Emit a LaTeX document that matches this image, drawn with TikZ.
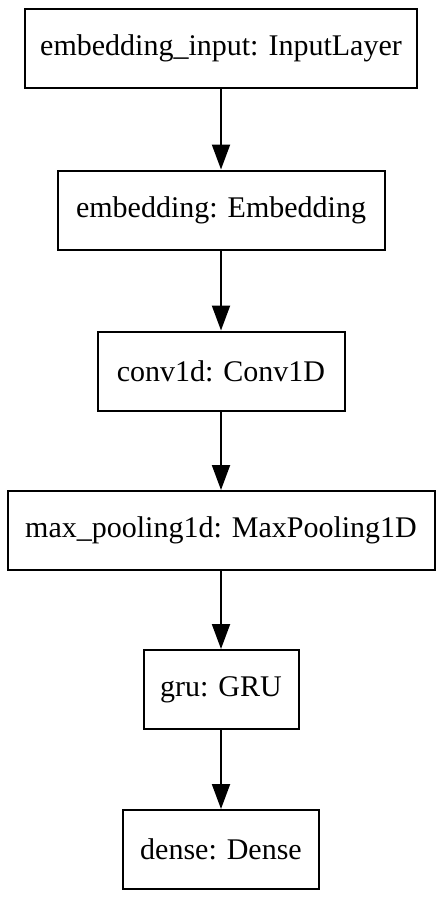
\documentclass[tikz,border=0pt]{standalone}
\usepackage{fontspec}
\setmainfont{Liberation Serif}
\usetikzlibrary{arrows.meta}
\begin{document}
\begin{tikzpicture}[x=1pt,y=-1pt,
  layer/.style={draw=black,line width=2pt,rectangle,inner sep=0pt,minimum height=79pt,font=\fontsize{30}{36}\selectfont},
  conn/.style={line width=2pt,-{Triangle[length=25pt,width=18pt]}}]
\useasboundingbox (0,0) rectangle (442,898);
\fill[white] (0,0) rectangle (442,898);
\node[layer,minimum width=392pt] (n1) at (221,48.5) {embedding\_input: InputLayer};
\node[layer,minimum width=327pt] (n2) at (221,210) {embedding: Embedding};
\node[layer,minimum width=247pt] (n3) at (221,371) {conv1d: Conv1D};
\node[layer,minimum width=427pt] (n4) at (221,530.5) {max\_pooling1d: MaxPooling1D};
\node[layer,minimum width=155pt] (n5) at (221,689.5) {gru: GRU};
\node[layer,minimum width=196pt] (n6) at (221,849.5) {dense: Dense};
\draw[conn] (n1.south) -- (n2.north);
\draw[conn] (n2.south) -- (n3.north);
\draw[conn] (n3.south) -- (n4.north);
\draw[conn] (n4.south) -- (n5.north);
\draw[conn] (n5.south) -- (n6.north);
\end{tikzpicture}
\end{document}
